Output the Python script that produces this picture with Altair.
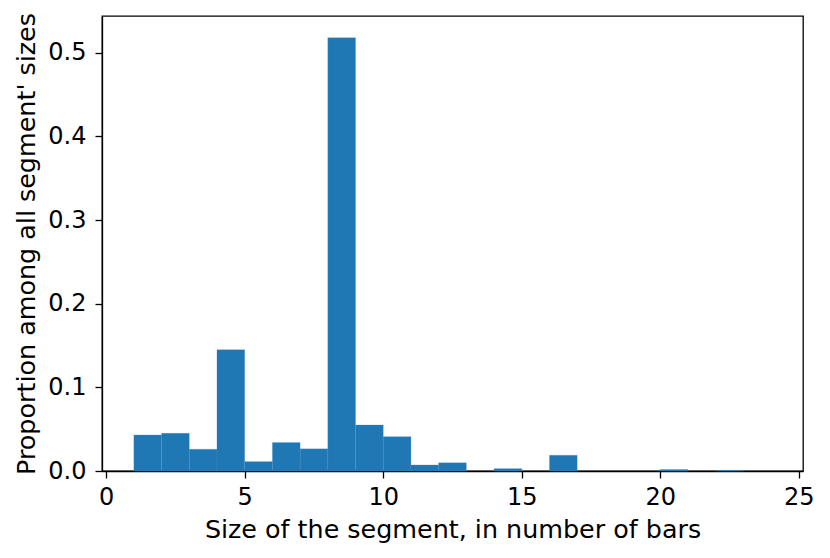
import altair as alt
import pandas as pd

bin_start = list(range(1, 24))
bin_end = list(range(2, 25))
proportion = [0.043, 0.045, 0.026, 0.145, 0.0112, 0.034, 0.0265, 0.518, 0.055, 0.041,
              0.0072, 0.0098, 0.0, 0.0028, 0.0, 0.0188, 0.0, 0.0, 0.0, 0.0018, 0.0, 0.0007, 0.0]

df = pd.DataFrame({"start": bin_start, "end": bin_end, "p": proportion})

FONT = "DejaVu Sans"
LFS = 24
TFS = 25.4

chart = alt.Chart(df).transform_filter(alt.datum.p > 0).mark_rect(
    color="#1f77b4", stroke="#4a90c4", strokeWidth=0.3
).encode(
    x=alt.X("start:Q", scale=alt.Scale(domain=[-0.15, 25.15], nice=False, zero=False),
            axis=alt.Axis(values=[0, 5, 10, 15, 20, 25], title="Size of the segment, in number of bars",
                          grid=False, format="d", labelFontSize=LFS, titleFontSize=TFS,
                          labelFont=FONT, titleFont=FONT, labelColor="black", titleColor="black",
                          titleFontWeight="normal", tickSize=7, tickWidth=1.3, tickColor="black",
                          domainColor="black", domainWidth=1.3, labelPadding=7, titlePadding=8)),
    x2="end:Q",
    y=alt.Y("p:Q", scale=alt.Scale(domain=[0, 0.5439], nice=False),
            axis=alt.Axis(values=[0, 0.1, 0.2, 0.3, 0.4, 0.5], format=".1f",
                          title="Proportion among all segment' sizes",
                          grid=False, labelFontSize=LFS, titleFontSize=TFS,
                          labelFont=FONT, titleFont=FONT, labelColor="black", titleColor="black",
                          titleFontWeight="normal", tickSize=7, tickWidth=1.3, tickColor="black",
                          domainColor="black", domainWidth=1.3, labelPadding=9, titlePadding=8)),
    y2=alt.datum(0),
).properties(
    width=701, height=455,
    autosize=alt.AutoSizeParams(type="none"),
    padding={"left": 94, "top": 8, "right": 19, "bottom": 79},
).configure_view(stroke="black", strokeWidth=1.3)

chart.save("out.html", embed_options={"renderer": "svg", "actions": False})
